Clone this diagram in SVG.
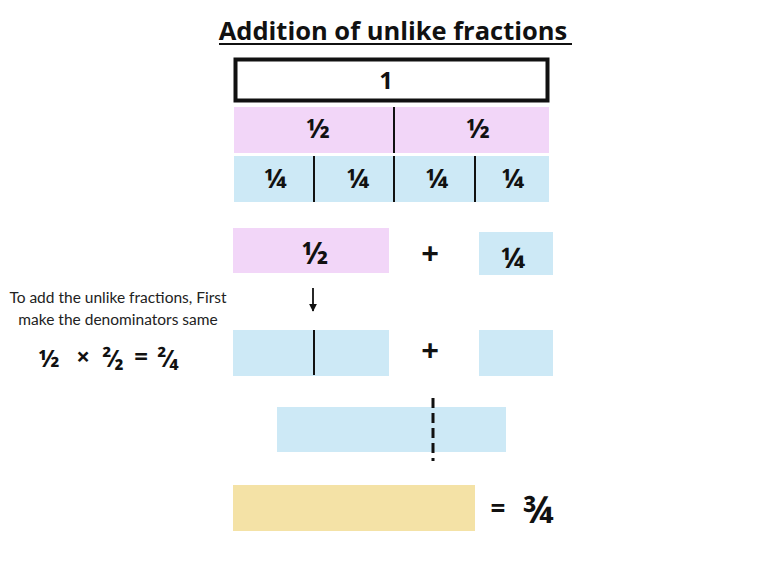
<svg xmlns="http://www.w3.org/2000/svg" width="768" height="576" viewBox="0 0 768 576">
<style>
.b{font-family:"Open Sans","Liberation Sans",sans-serif;font-weight:700;fill:#111;text-anchor:middle}
.f{font-size:27px}
.h{font-family:"Lato","Liberation Sans",sans-serif;font-size:15.5px;fill:#222;text-anchor:middle}
.pink{fill:#f2d6f8}
.blue{fill:#cde9f6}
.yel{fill:#f4e2a6}
.div{stroke:#111;stroke-width:2}
</style>
<defs>
<marker id="ah" viewBox="0 0 10 10" refX="9" refY="5" markerWidth="8" markerHeight="8" orient="auto" markerUnits="userSpaceOnUse">
<path d="M0,0 L10,5 L0,10 Z" fill="#111"/>
</marker>
</defs>
<rect width="768" height="576" fill="#fff"/>
<g id="title">
<text class="b" x="393" y="40" font-size="25.5">Addition of unlike fractions</text>
<line x1="219" y1="44" x2="572" y2="44" stroke="#111" stroke-width="2"/>
</g>
<g id="whole">
<rect x="235.5" y="59.5" width="312" height="41" fill="#fff" stroke="#111" stroke-width="4"/>
<text class="b" x="386" y="89" font-size="24">1</text>
</g>
<g id="halves">
<rect class="pink" x="234" y="107" width="315" height="46"/>
<line class="div" x1="394" y1="107" x2="394" y2="153"/>
<text class="b f" x="318" y="138">½</text>
<text class="b f" x="478" y="138">½</text>
</g>
<g id="quarters">
<rect class="blue" x="234" y="156" width="315" height="46"/>
<line class="div" x1="314" y1="156" x2="314" y2="202"/>
<line class="div" x1="394" y1="156" x2="394" y2="202"/>
<line class="div" x1="475" y1="156" x2="475" y2="202"/>
<text class="b f" x="275.5" y="188">¼</text>
<text class="b f" x="358" y="188">¼</text>
<text class="b f" x="437" y="188">¼</text>
<text class="b f" x="513" y="188">¼</text>
</g>
<g id="half-term">
<rect class="pink" x="233" y="228" width="156" height="45"/>
<text class="b" x="315" y="264" font-size="30">½</text>
</g>
<g id="plus1"><text class="b" x="430" y="264" font-size="31">+</text></g>
<g id="quarter-term">
<rect class="blue" x="479" y="232" width="74" height="43"/>
<text class="b" x="513" y="268" font-size="29">¼</text>
</g>
<g id="note">
<text class="h" x="118" y="303">To add the unlike fractions, First</text>
<text class="h" x="118" y="325">make the denominators same</text>
<g class="b" font-size="24">
<text x="49" y="367">½</text>
<text x="83" y="365">×</text>
<text x="113" y="367">²⁄₂</text>
<text x="141" y="365">=</text>
<text x="168" y="367">²⁄₄</text>
</g>
</g>
<g id="two-quarters">
<rect class="blue" x="233" y="330" width="156" height="46"/>
<line class="div" x1="314" y1="330" x2="314" y2="375"/>
</g>
<g id="plus2"><text class="b" x="430" y="361" font-size="31">+</text></g>
<g id="quarter-empty">
<rect class="blue" x="479" y="330" width="74" height="46"/>
</g>
<g id="combined">
<rect class="blue" x="277" y="407" width="229" height="45"/>
<line x1="433" y1="398" x2="433" y2="461" stroke="#111" stroke-width="3" stroke-dasharray="10,5"/>
</g>
<g id="result">
<rect class="yel" x="233" y="485" width="242" height="46"/>
<text class="b" x="498" y="518" font-size="26">=</text>
<text class="b" x="538" y="523" font-size="37">¾</text>
</g>
<g id="connectors">
<line x1="313" y1="288" x2="313" y2="311" stroke="#111" stroke-width="1.8" marker-end="url(#ah)"/>
</g>
</svg>
